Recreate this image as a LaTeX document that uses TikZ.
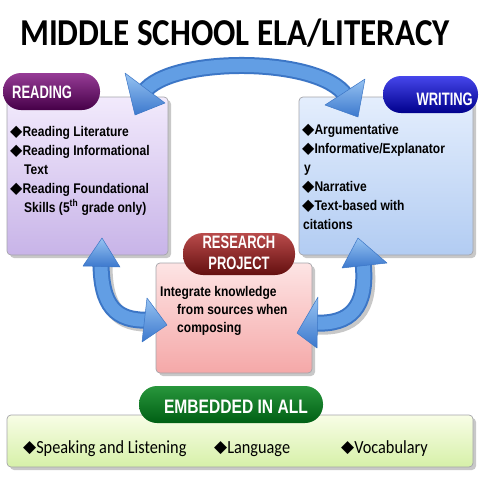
\documentclass[tikz,border=0pt]{standalone}
\usepackage{fontspec}
\setmainfont{Liberation Sans}
\newfontfamily\titlefont[FakeStretch=0.87]{Carlito}
\newfontfamily\labfont[FakeStretch=0.72]{Liberation Sans}
\newfontfamily\listfont[FakeStretch=0.86]{Liberation Sans}
\newfontfamily\embfont[FakeStretch=0.8]{Liberation Sans}
\newfontfamily\calfont[FakeStretch=0.88]{Carlito}
\newfontfamily\symfont{DejaVu Sans}
\newcommand{\dia}{{\symfont\fontsize{16}{16}\selectfont\raisebox{-0.5pt}{◆}}}
\newcommand{\diab}{{\symfont\fontsize{17}{17}\selectfont\raisebox{0.5pt}{◆}}}
\definecolor{boxgray}{RGB}{165,165,170}
\definecolor{shadowgray}{RGB}{200,200,200}
\definecolor{purtop}{RGB}{150,60,150}
\definecolor{purmid}{RGB}{105,12,105}
\definecolor{purbot}{RGB}{70,0,72}
\definecolor{rdtop}{RGB}{242,234,252}
\definecolor{rdbot}{RGB}{200,180,232}
\definecolor{blutop}{RGB}{70,70,235}
\definecolor{blumid}{RGB}{10,10,200}
\definecolor{blubot}{RGB}{0,0,140}
\definecolor{wrtop}{RGB}{228,238,253}
\definecolor{wrbot}{RGB}{178,204,242}
\definecolor{redtop}{RGB}{185,75,75}
\definecolor{redmid}{RGB}{140,30,30}
\definecolor{redbot}{RGB}{100,15,15}
\definecolor{pktop}{RGB}{253,228,228}
\definecolor{pkbot}{RGB}{245,168,168}
\definecolor{grtop}{RGB}{40,150,60}
\definecolor{grmid}{RGB}{0,120,30}
\definecolor{grbot}{RGB}{0,95,20}
\definecolor{emtop}{RGB}{248,253,230}
\definecolor{embot}{RGB}{214,240,168}
\definecolor{arrdark}{RGB}{60,118,198}
\definecolor{arrmid}{RGB}{98,158,228}
\definecolor{headlight}{RGB}{150,195,242}
\definecolor{headdark}{RGB}{60,120,205}
\begin{document}
\begin{tikzpicture}[x=1pt,y=-1pt,
  boxstyle/.style={draw=boxgray, line width=0.7pt, rounded corners=4pt},
  shadowstyle/.style={fill=shadowgray, rounded corners=4pt},
  labtxt/.style={inner sep=0pt, text=white, font=\labfont\bfseries\fontsize{18}{18}\selectfont},
  listtxt/.style={anchor=base west, inner sep=0pt, font=\listfont\bfseries\fontsize{14}{16}\selectfont},
  embtxt/.style={anchor=base west, inner sep=0pt, font=\calfont\fontsize{18.5}{20}\selectfont},
  shaftout/.style={line width=17pt, color=arrdark},
  shaftin/.style={line width=13pt, color=arrmid},
  shaftshadow/.style={line width=17pt, color=shadowgray},
  headstyle/.style={top color=headlight, bottom color=headdark, draw=arrdark, line width=0.5pt, line join=round}
]
\useasboundingbox (0,0) rectangle (480,480);
\fill[white] (0,0) rectangle (480,480);

% title
\node[anchor=base west, inner sep=0pt, font=\titlefont\bfseries\fontsize{38}{38}\selectfont] (title) at (20,45) {MIDDLE SCHOOL ELA/LITERACY};

% reading box
\fill[shadowstyle] (10,100) rectangle (171,258);
\shadedraw[boxstyle, top color=rdtop, bottom color=rdbot] (7,97) rectangle (168,255);
\shade[top color=purtop, middle color=purmid, bottom color=purbot, rounded corners=18pt] (3,73) rectangle (100,110);
\node[labtxt, anchor=base west] (readlab) at (12,98) {READING};
\node[listtxt] (r1) at (10,136) {\dia Reading Literature};
\node[listtxt] (r2) at (10,155) {\dia Reading Informational};
\node[listtxt] (r3) at (24,174) {Text};
\node[listtxt] (r4) at (10,193) {\dia Reading Foundational};
\node[listtxt] (r5) at (24,212) {Skills (5\textsuperscript{th} grade only)};

% writing box
\fill[shadowstyle] (302,100) rectangle (476,258);
\shadedraw[boxstyle, top color=wrtop, bottom color=wrbot] (299,97) rectangle (473,255);
\shade[top color=blutop, middle color=blumid, bottom color=blubot, rounded corners=18pt] (383,76) rectangle (478,113);
\node[labtxt, anchor=base east] (writelab) at (473,105) {WRITING};
\node[listtxt] (w1) at (302,134) {\dia Argumentative};
\node[listtxt] (w2) at (302,153) {\dia Informative/Explanator};
\node[listtxt] (w3) at (304,172) {y};
\node[listtxt] (w4) at (302,191) {\dia Narrative};
\node[listtxt] (w5) at (302,210) {\dia Text-based with};
\node[listtxt] (w6) at (303,229) {citations};

% research box
\fill[shadowstyle] (159,266) rectangle (315,376);
\shadedraw[boxstyle, top color=pktop, bottom color=pkbot] (156,263) rectangle (312,373);
\shade[top color=redtop, middle color=redmid, bottom color=redbot, rounded corners=20pt] (183,233) rectangle (295,275);
\node[labtxt, anchor=base] (reslab1) at (239,248) {RESEARCH};
\node[labtxt, anchor=base] (reslab2) at (239,269) {PROJECT};
\node[listtxt] (p1) at (160,296) {Integrate knowledge};
\node[listtxt] (p2) at (177,314) {from sources when};
\node[listtxt] (p3) at (177,332) {composing};

% embedded box
\fill[shadowstyle] (10,418) rectangle (476,470);
\shadedraw[boxstyle, top color=emtop, bottom color=embot] (7,415) rectangle (473,467);
\shade[top color=grtop, middle color=grmid, bottom color=grbot, rounded corners=18pt] (139,386) rectangle (323,423);
\node[labtxt, anchor=base, font=\embfont\bfseries\fontsize{19.5}{20}\selectfont] (emblab) at (236,413) {EMBEDDED IN ALL};
\node[embtxt] (e1) at (23,453) {\diab Speaking and Listening};
\node[embtxt] (e2) at (214,453) {\diab Language};
\node[embtxt] (e3) at (341,453) {\diab Vocabulary};

% arrow end points
\coordinate (ta) at (144,92);
\coordinate (tb) at (346,96);
\coordinate (la) at (101,262);
\coordinate (lb) at (150,320);
\coordinate (ra) at (363,262);
\coordinate (rb) at (314,323);

% top arrow
\draw[shaftout] (ta) .. controls (170,56) and (320,56) .. (tb);
\draw[shaftin] (ta) .. controls (170,56) and (320,56) .. (tb);
\shadedraw[headstyle] (125,73) -- (165,103) -- (135,115) -- cycle;
\shadedraw[headstyle] (365,79) -- (325,105) -- (358,117) -- cycle;

% left lower arrow
\draw[shaftshadow] ([shift={(3,3)}]la) .. controls (104,308) and (118,325) .. ([shift={(3,3)}]lb);
\draw[shaftout] (la) .. controls (101,305) and (115,322) .. (lb);
\draw[shaftin] (la) .. controls (101,305) and (115,322) .. (lb);
\shadedraw[headstyle] (102,238) -- (120,267) -- (83,266) -- cycle;
\shadedraw[headstyle] (147,298) -- (167,325) -- (142,342) -- cycle;

% right lower arrow
\draw[shaftshadow] ([shift={(3,3)}]ra) .. controls (371,311) and (353,328) .. ([shift={(3,3)}]rb);
\draw[shaftout] (ra) .. controls (368,308) and (350,325) .. (rb);
\draw[shaftin] (ra) .. controls (368,308) and (350,325) .. (rb);
\shadedraw[headstyle] (358,238) -- (387,263) -- (342,268) -- cycle;
\shadedraw[headstyle] (318,297) -- (317,348) -- (297,333) -- cycle;
\end{tikzpicture}
\end{document}
